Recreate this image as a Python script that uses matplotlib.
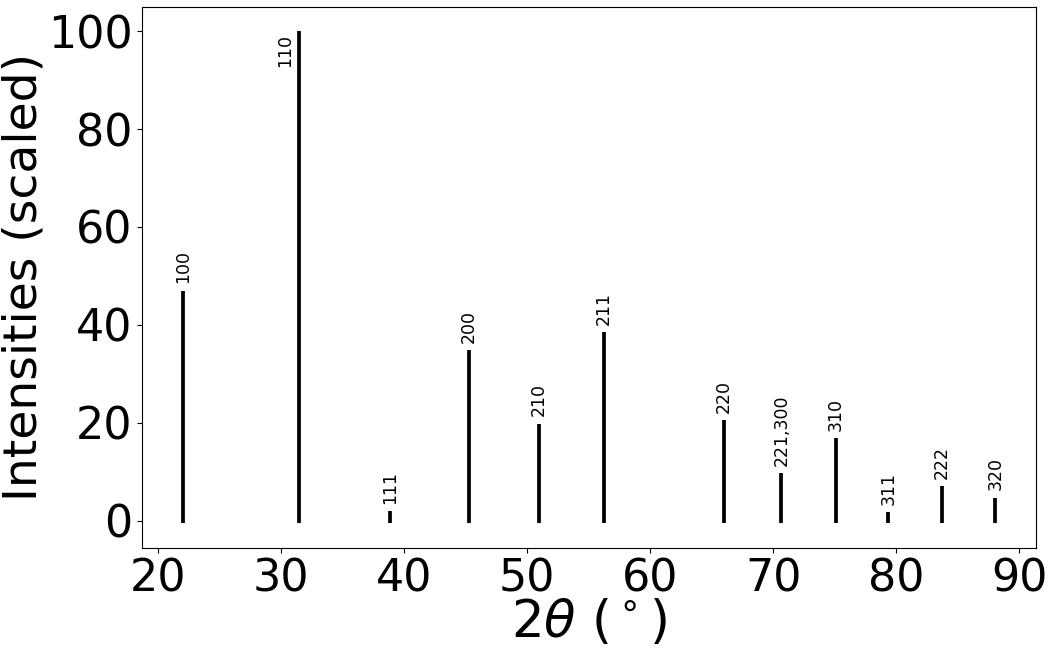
import matplotlib
matplotlib.use("Agg")
import matplotlib.pyplot as plt

angles = [22.03, 31.46, 38.86, 45.28, 50.98, 56.26, 66.0, 70.65, 75.1, 79.35, 83.7, 88.05]
intens = [47, 100, 2, 34.8, 19.8, 38.5, 20.6, 9.7, 16.8, 1.8, 7.1, 4.7]
hkl = ["100", "110", "111", "200", "210", "211", "220", "221,300", "310", "311", "222", "320"]

fig = plt.figure(figsize=(10.54, 6.56), dpi=100)
ax = fig.add_axes([0.135, 0.165, 0.848, 0.825])
ax.vlines(angles, -0.5, intens, color="black", linewidth=2.7)
ax.margins(x=0.05, y=0.05)
for a, i, h in zip(angles, intens, hkl):
    if i >= 90:
        ax.text(a - 0.4, i - 0.5, h, rotation=90, ha="right", va="top", fontsize=12.5)
    else:
        ax.text(a, i + 1.5, h, rotation=90, ha="center", va="bottom", fontsize=12.5)
ax.tick_params(labelsize=32)
ax.set_xticks(range(20, 91, 10))
ax.set_yticks(range(0, 101, 20))
ax.set_xlabel(r"$2\theta$ ($^\circ$)", fontsize=37, labelpad=-2)
ax.set_ylabel("Intensities (scaled)", fontsize=34, labelpad=1)
fig.savefig("out.png", dpi=100)
